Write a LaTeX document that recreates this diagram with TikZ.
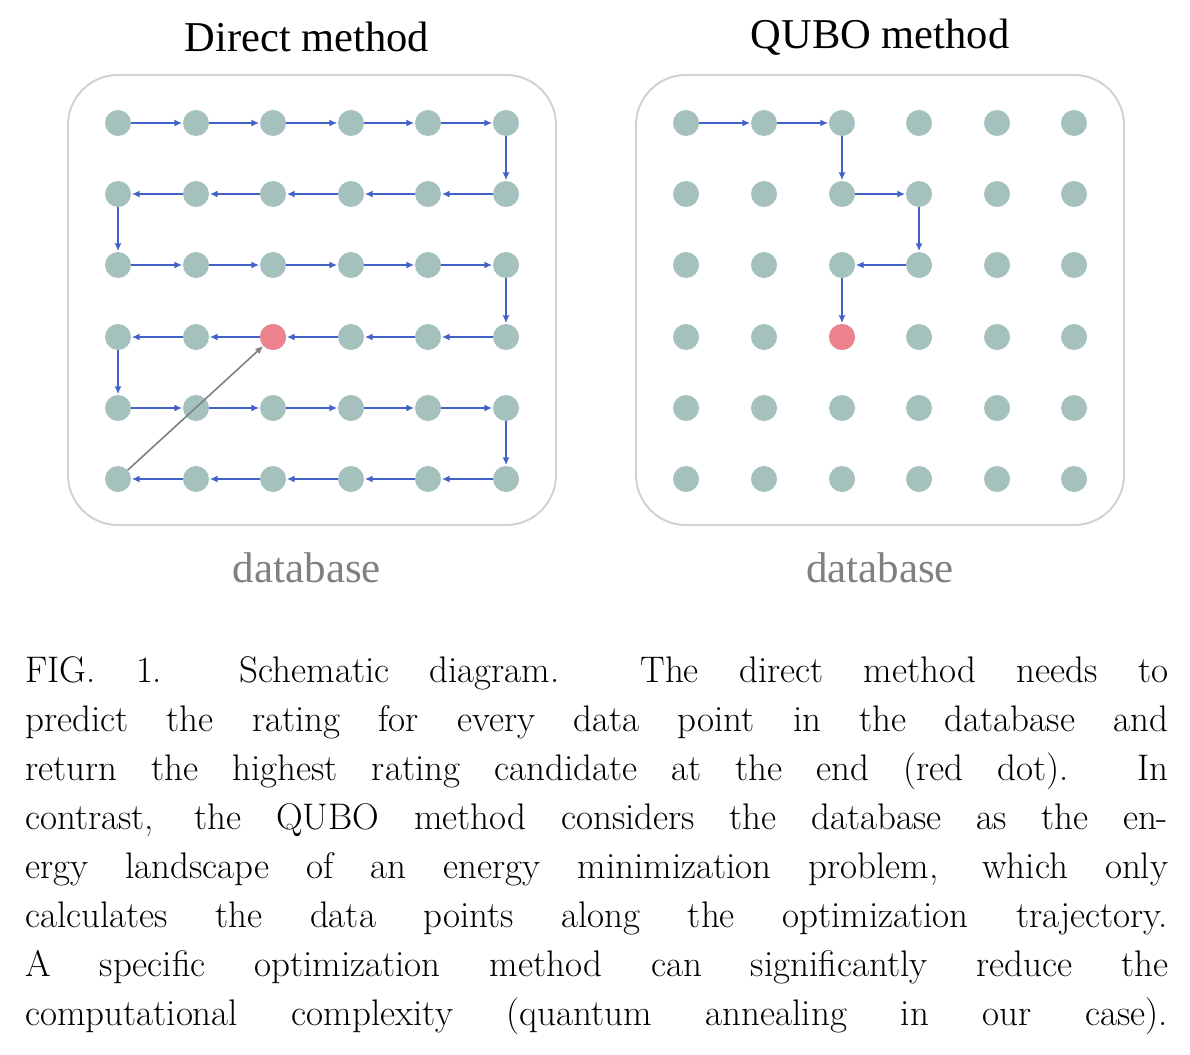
\documentclass[tikz,border=0pt]{standalone}
\usepackage{fontspec}
\newfontfamily\tfont{Liberation Serif}
\usetikzlibrary{arrows.meta}
\definecolor{dotc}{RGB}{165,193,190}
\definecolor{redc}{RGB}{238,130,140}
\definecolor{arrc}{RGB}{66,98,200}
\definecolor{boxc}{RGB}{210,210,210}
\newcommand{\capline}[1]{\makebox[1143pt][s]{#1}}
\begin{document}
\begin{tikzpicture}[x=1pt,y=-1pt,
  dot/.style={circle,fill=dotc,minimum size=26pt,inner sep=0pt},
  red/.style={dot,fill=redc},
  arr/.style={draw=arrc,line width=1.6pt,-{Latex[length=8pt,width=7pt]},shorten >=0.5pt},
  garr/.style={draw=gray,line width=1.6pt,-{Latex[length=8pt,width=7pt]}},
  box/.style={draw=boxc,line width=2pt,rounded corners=50pt},
  ttl/.style={font=\tfont\fontsize{42.5}{44}\selectfont},
  db/.style={font=\tfont\fontsize{43}{45}\selectfont,text=gray}]
\useasboundingbox (0,0) rectangle (1190,1054);
\draw[box] (68,75) rectangle (556,525);
\draw[box] (636,75) rectangle (1124,525);
\node[ttl] (t1) at (307,37) {Direct method};
\node[ttl] (t2) at (880,37) {QUBO method};
\node[db] (d1) at (307,568) {database};
\node[db] (d2) at (880,568) {database};
\foreach \x [count=\i] in {118,196,273,351,428,506}
  \foreach \y [count=\j] in {123,194,265,337,408,479} {
    \node[dot] (L-\i-\j) at (\x,\y) {};
  }
\foreach \x [count=\i] in {686,764,842,919,997,1074}
  \foreach \y [count=\j] in {123,194,265,337,408,479} {
    \node[dot] (R-\i-\j) at (\x,\y) {};
  }
\node[red] (L-3-4) at (273,337) {};
\node[red] (R-3-4) at (842,337) {};
% direct snake
\foreach \j in {1,3,5} {
  \foreach \i [evaluate=\i as \n using int(\i+1)] in {1,...,5}
    \draw[arr] (L-\i-\j) -- (L-\n-\j);
}
\foreach \j in {2,4,6} {
  \foreach \i [evaluate=\i as \n using int(\i-1)] in {6,...,2}
    \draw[arr] (L-\i-\j) -- (L-\n-\j);
}
\draw[arr] (L-6-1) -- (L-6-2);
\draw[arr] (L-1-2) -- (L-1-3);
\draw[arr] (L-6-3) -- (L-6-4);
\draw[arr] (L-1-4) -- (L-1-5);
\draw[arr] (L-6-5) -- (L-6-6);
\draw[garr] (L-1-6) -- (L-3-4);
% qubo
\draw[arr] (R-1-1) -- (R-2-1);
\draw[arr] (R-2-1) -- (R-3-1);
\draw[arr] (R-3-1) -- (R-3-2);
\draw[arr] (R-3-2) -- (R-4-2);
\draw[arr] (R-4-2) -- (R-4-3);
\draw[arr] (R-4-3) -- (R-3-3);
\draw[arr] (R-3-3) -- (R-3-4);
\node[anchor=north west,inner sep=0pt,align=left,
  font=\fontsize{37}{49}\selectfont] (cap) at (25,656) {%
\capline{FIG. 1.\quad\ Schematic diagram.\ \ The direct method needs to}\\
\capline{predict the rating for every data point in the database and}\\
\capline{return the highest rating candidate at the end (red dot).\ \ In}\\
\capline{contrast, the QUBO method considers the database as the en-}\\
\capline{ergy landscape of an energy minimization problem, which only}\\
\capline{calculates the data points along the optimization trajectory.}\\
\capline{A specific optimization method can significantly reduce the}\\
\capline{computational complexity (quantum annealing in our case).}};
\end{tikzpicture}
\end{document}
